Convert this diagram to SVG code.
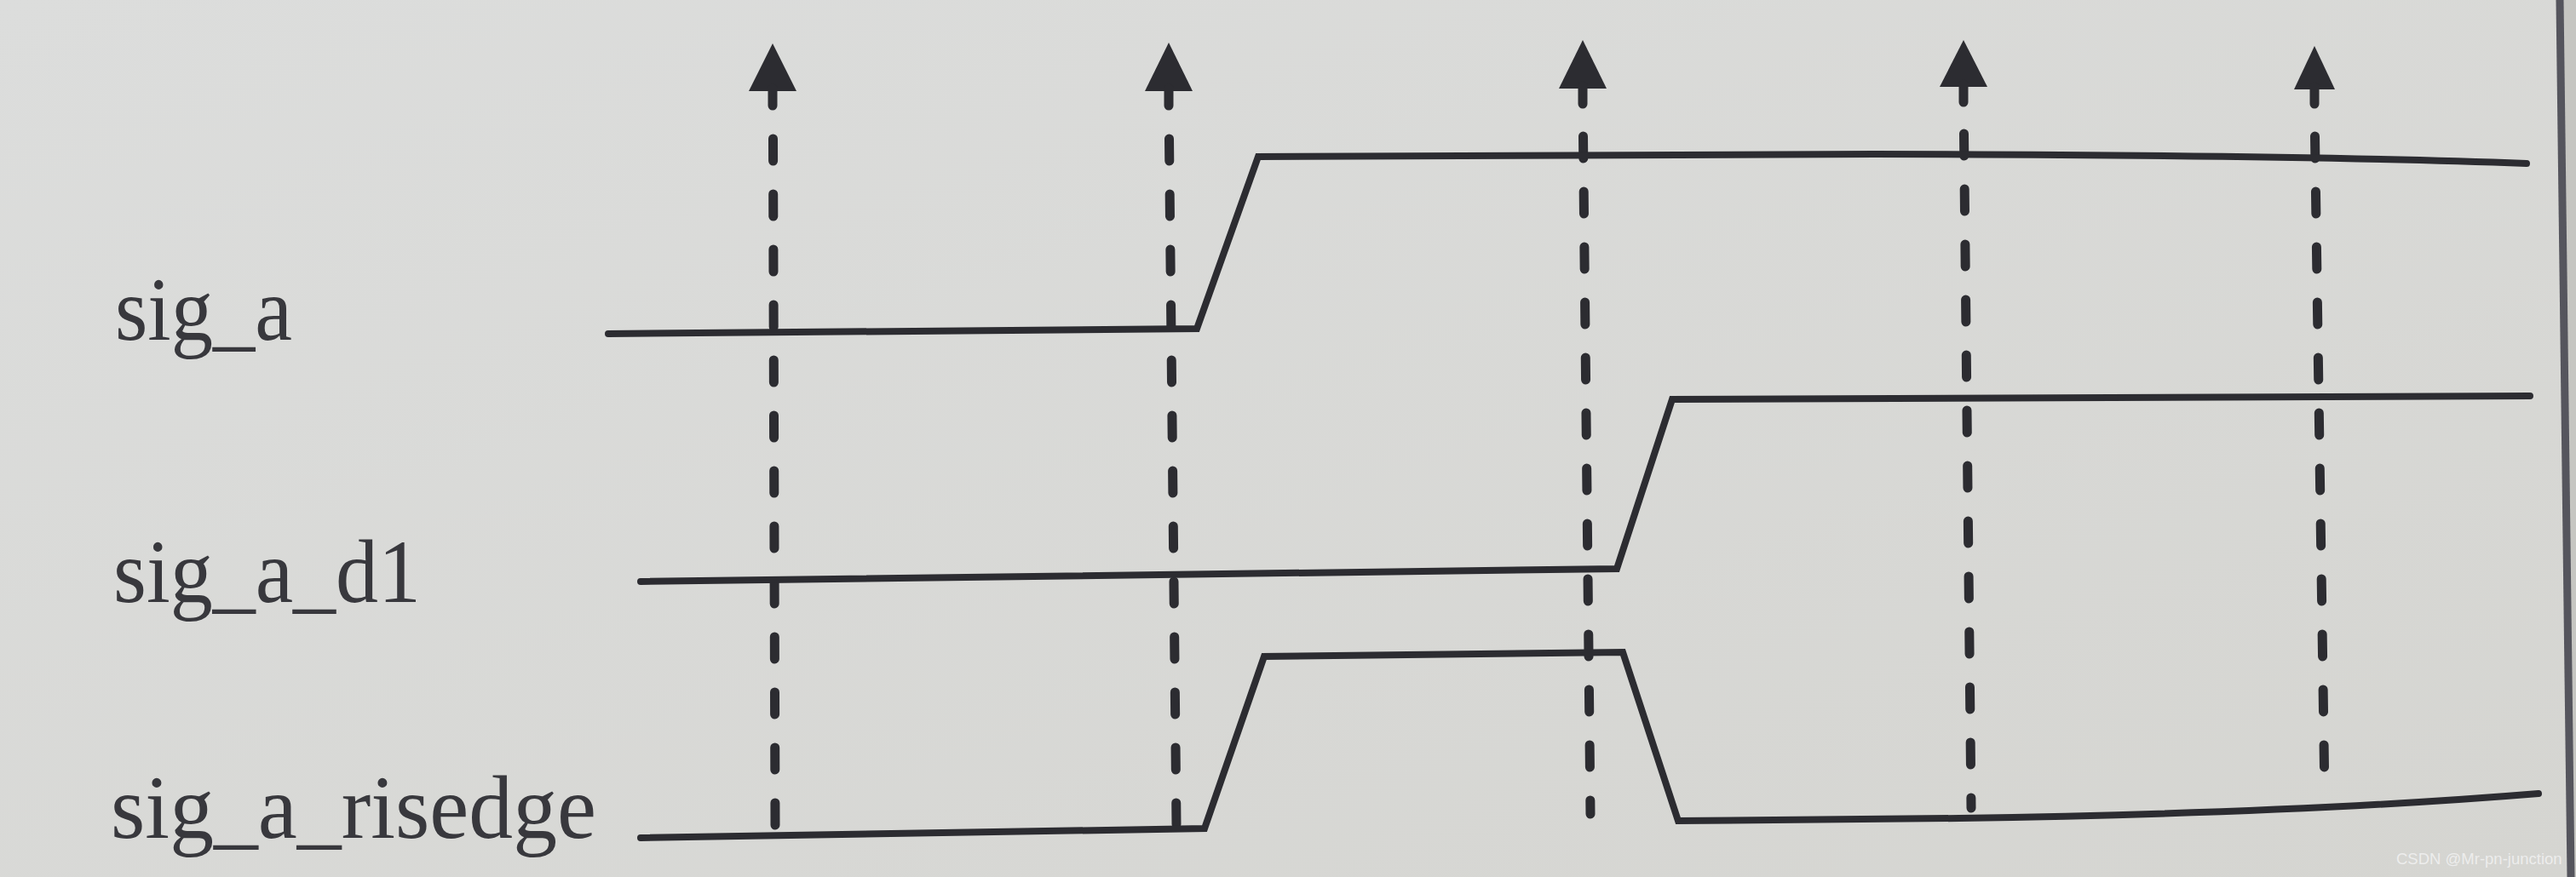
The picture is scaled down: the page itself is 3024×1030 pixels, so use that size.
<svg xmlns="http://www.w3.org/2000/svg" width="3024" height="1030" viewBox="0 0 3024 1030">
  <defs>
    <style>
      .sig { fill: none; stroke: #2c2c31; stroke-width: 8; stroke-linejoin: miter; stroke-linecap: round; }
      .dash { fill: none; stroke: #2c2c31; stroke-width: 11; stroke-linecap: round; stroke-dasharray: 26 39; }
      .shaft { fill: none; stroke: #2c2c31; stroke-width: 11; stroke-linecap: round; }
      .head { fill: #2c2c31; }
      .lbl { font-family: "Liberation Serif", "DejaVu Serif", serif; font-size: 106px; fill: #38383d; }
      .wm { font-family: "Liberation Sans", Arial, sans-serif; font-size: 18.5px; fill: #f2f2f2; fill-opacity: 0.85; }
    </style>
    <linearGradient id="paper" x1="0" y1="0" x2="1" y2="1">
      <stop offset="0" stop-color="#dcdddc"/>
      <stop offset="1" stop-color="#d5d5d1"/>
    </linearGradient>
  </defs>

  <rect x="0" y="0" width="3024" height="1030" fill="url(#paper)"/>
  <polygon points="3006,0 3024,0 3024,1030 3019,1030" fill="#c6c6c2"/>
  <line x1="3005" y1="0" x2="3018" y2="1030" stroke="#55555d" stroke-width="9"/>

  <g id="clocks">
    <g id="clk1">
      <polygon class="head" points="907,51 879,107 935,107"/>
      <line class="shaft" x1="907" y1="104" x2="907" y2="124"/>
      <line class="dash" x1="907.5" y1="163" x2="910" y2="971"/>
    </g>
    <g id="clk2">
      <polygon class="head" points="1372,50 1344,107 1400,107"/>
      <line class="shaft" x1="1372" y1="104" x2="1372" y2="124"/>
      <line class="dash" x1="1372.5" y1="163" x2="1381" y2="968"/>
    </g>
    <g id="clk3">
      <polygon class="head" points="1858,47 1830,104 1886,104"/>
      <line class="shaft" x1="1858" y1="101" x2="1858" y2="122"/>
      <line class="dash" x1="1858.5" y1="160" x2="1867" y2="956"/>
    </g>
    <g id="clk4">
      <polygon class="head" points="2305,47 2277,102 2333,102"/>
      <line class="shaft" x1="2305" y1="99" x2="2305" y2="120"/>
      <line class="dash" x1="2305.5" y1="157" x2="2314" y2="949"/>
    </g>
    <g id="clk5">
      <polygon class="head" points="2717,54 2693,105 2741,105"/>
      <line class="shaft" x1="2717" y1="102" x2="2717" y2="122"/>
      <line class="dash" x1="2717.5" y1="160" x2="2729" y2="936"/>
    </g>
  </g>

  <g id="connectors">
    <path id="wave_sig_a" class="sig" d="M714,392 L1405,386 L1477,184 L2200,181 Q2700,182 2966,192"/>
    <path id="wave_sig_a_d1" class="sig" d="M752,683 L1898,668 L1963,469 L2970,465"/>
    <path id="wave_sig_a_risedge" class="sig" d="M752,984 L1414,973 L1484,771 L1905,766 L1970,964 L2300,961 Q2700,955 2980,932"/>
  </g>

  <g id="sig_a">
    <text class="lbl" x="135" y="399" textLength="208" lengthAdjust="spacingAndGlyphs">sig_a</text>
  </g>
  <g id="sig_a_d1">
    <text class="lbl" x="133" y="707" textLength="361" lengthAdjust="spacingAndGlyphs">sig_a_d1</text>
  </g>
  <g id="sig_a_risedge">
    <text class="lbl" x="130" y="984" textLength="570" lengthAdjust="spacingAndGlyphs">sig_a_risedge</text>
  </g>

  <text class="wm" x="2813" y="1015">CSDN @Mr-pn-junction</text>
</svg>
